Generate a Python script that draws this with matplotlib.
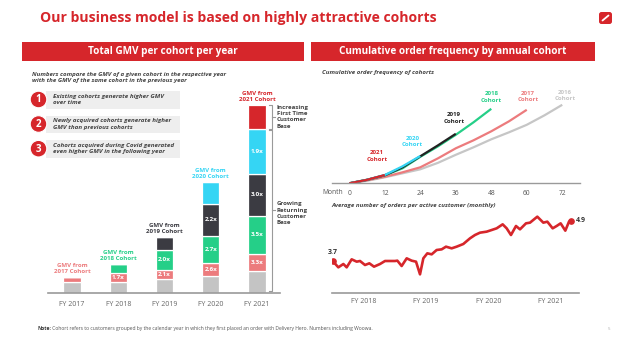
import numpy as np
import matplotlib
matplotlib.use("Agg")
import matplotlib.pyplot as plt
from matplotlib.patches import Rectangle, Circle, FancyBboxPatch

plt.rcParams['font.family'] = ['Open Sans', 'DejaVu Sans']

# ---- data -------------------------------------------------------------
years = ['FY 2017', 'FY 2018', 'FY 2019', 'FY 2020', 'FY 2021']
# GMV per cohort (relative units)
gmv_old = [11, 11, 13.5, 16.5, 22]
gmv_2017 = [4.5, 8.5, 9.5, 13, 17]
gmv_2018 = [0, 9, 19.5, 27, 37.5]
gmv_2019 = [0, 0, 13, 32.5, 42.5]
gmv_2020 = [0, 0, 0, 21.5, 44.5]
gmv_2021 = [0, 0, 0, 0, 24]
lbl_2017 = ['', '1.7x', '2.1x', '2.6x', '3.3x']
lbl_2018 = ['', '', '2.0x', '2.7x', '3.5x']
lbl_2019 = ['', '', '', '2.2x', '3.0x']
lbl_2020 = ['', '', '', '', '1.9x']
lbl_2021 = ['', '', '', '', '']

# cumulative order frequency (relative units), every 6 months
months = [0, 6, 12, 18, 24, 30, 36, 42, 48, 54, 60, 66, 72]
cum_2016 = [0, 2.5, 6, 10, 14, 20.5, 28.5, 36, 44, 51, 58.5, 68, 78.5]
cum_2017 = [0, 3, 6.5, 11, 16, 25, 35, 43, 52, 62, 73.5]
cum_2018 = [0, 3.5, 8, 15, 26.5, 37, 48.5, 61, 74.5]
cum_2019 = [0, 3.5, 8, 16, 27, 38, 49.5]
cum_2020 = [0, 3.5, 8.3, 17, 27.3]
cum_2021 = [0, 3.5, 8.3]

# average orders per active customer, months since Jan 2018
aoc_month = [0.0, 1.09, 2.06, 2.70, 3.66, 4.63, 5.27, 6.23, 7.07, 7.97, 9.13,
             10.09, 12.02, 12.47, 13.30, 14.27, 15.23, 16.07, 16.84, 17.48,
             18.25, 19.09, 20.05, 21.02, 21.85, 22.94, 23.91, 25.19, 26.48,
             27.44, 28.41, 29.69, 30.66, 31.62, 32.78, 33.55, 34.38, 35.35,
             36.12, 37.28, 38.05, 39.46, 40.62, 41.39, 42.42, 43.19, 43.96,
             44.86, 45.57, 45.95]
aoc_value = [3.70, 3.51, 3.61, 3.51, 3.75, 3.68, 3.70, 3.58, 3.63, 3.53, 3.61,
             3.70, 3.70, 3.71, 3.55, 3.78, 3.71, 3.68, 3.30, 3.78,
             3.93, 3.90, 4.03, 4.05, 4.13, 4.08, 4.13, 4.21, 4.38,
             4.48, 4.55, 4.58, 4.63, 4.68, 4.80, 4.68, 4.48, 4.75,
             4.65, 4.83, 4.85, 5.03, 4.85, 4.88, 4.68, 4.75, 4.83,
             4.61, 4.88, 4.90]
fy_ticks = [6, 18, 30, 42]
fy_labels = ['FY 2018', 'FY 2019', 'FY 2020', 'FY 2021']

# ---- colours ----------------------------------------------------------
RED = '#d6262b'
SALMON = '#ec7b7d'
GREEN = '#25cf88'
DARK = '#3b3b42'
CYAN = '#35d5f4'
GREY = '#c4c4c4'
TXT = '#444444'
AXC = '#9a9a9a'

W, H = 619, 344
fig = plt.figure(figsize=(W / 100, H / 100), dpi=100)


def box(l, t, r, b):
    return [l / W, 1 - b / H, (r - l) / W, (b - t) / H]


# background canvas in pixel coordinates
cv = fig.add_axes([0, 0, 1, 1])
cv.set_xlim(0, W)
cv.set_ylim(H, 0)
cv.axis('off')

cv.text(40, 18, 'Our business model is based on highly attractive cohorts',
        color=RED, fontsize=10.1, fontweight='bold', va='center', ha='left')
cv.add_patch(FancyBboxPatch((599, 12), 13, 12, boxstyle='round,pad=0,rounding_size=2.5',
                            fc=RED, ec='none'))
cv.plot([602.5, 608.5], [20.5, 15.5], color='white', lw=1.3, solid_capstyle='round')

for l, r, t in [(22, 304, 'Total GMV per cohort per year'),
                (311, 595, 'Cumulative order frequency by annual cohort')]:
    cv.add_patch(Rectangle((l, 42), r - l, 19, fc=RED, ec='none'))
    cv.text((l + r) / 2, 51.5, t, color='white', fontsize=7.2, fontweight='bold',
            ha='center', va='center')

cv.text(31.5, 77.5, 'Numbers compare the GMV of a given cohort in the respective year\n'
        'with the GMV of the same cohort in the previous year',
        color=TXT, fontsize=4.4, fontweight='bold', style='italic', va='center',
        linespacing=1.35)

bullets = ['Existing cohorts generate higher GMV\nover time',
           'Newly acquired cohorts generate higher\nGMV than previous cohorts',
           'Cohorts acquired during Covid generated\neven higher GMV in the following year']
for i, (yc, t) in enumerate(zip([99.5, 124, 148.7], bullets)):
    cv.add_patch(Rectangle((46, yc - 8.5), 134, 17.5, fc='#eeeeee', ec='none'))
    cv.add_patch(Circle((38.5, yc), 8.3, fc=RED, ec='white', lw=0.8))
    cv.text(38.5, yc + 0.3, str(i + 1), color='white', fontsize=7, fontweight='bold',
            ha='center', va='center')
    cv.text(53, yc, t, color=TXT, fontsize=4.5, fontweight='bold', style='italic',
            va='center', linespacing=1.35)

cv.text(322.5, 72.5, 'Cumulative order frequency of cohorts', color=TXT, fontsize=4.4,
        fontweight='bold', style='italic', va='center')
cv.text(331.5, 205, 'Average number of orders per active customer (monthly)', color=TXT,
        fontsize=4.4, fontweight='bold', style='italic', va='center')
cv.text(322, 192, 'Month', color='#555555', fontsize=4.8, va='center')

note = cv.text(37, 328.5, 'Note:', color='#333333', fontsize=3.6, fontweight='bold',
               va='center')
cv.annotate(' Cohort refers to customers grouped by the calendar year in which they first '
            'placed an order with Delivery Hero. Numbers including Woowa.',
            xy=(1, 0.5), xycoords=note, va='center', ha='left', color='#555555',
            fontsize=3.6)
cv.text(608, 328.5, '5', color='#aaaaaa', fontsize=3.2, va='center')

# ---- stacked bar chart ------------------------------------------------
ax = fig.add_axes(box(48, 80, 280, 292.5))
ax.set_facecolor('none')
x = np.arange(len(years))
layers = [(gmv_old, GREY, ['']*5), (gmv_2017, SALMON, lbl_2017),
          (gmv_2018, GREEN, lbl_2018), (gmv_2019, DARK, lbl_2019),
          (gmv_2020, CYAN, lbl_2020), (gmv_2021, RED, lbl_2021)]
bottom = np.zeros(len(years))
tops = []
for vals, col, lbls in layers:
    vals = np.array(vals, dtype=float)
    ax.bar(x, vals, 0.37, bottom=bottom, color=col, edgecolor='white', linewidth=0.9)
    for i, (v, lb) in enumerate(zip(vals, lbls)):
        if lb:
            ax.text(i, bottom[i] + v / 2, lb, color='white', fontsize=4.6,
                    fontweight='bold', ha='center', va='center')
    tops.append(bottom + vals)
    bottom = bottom + vals

cohort_txt = ['GMV from\n2017 Cohort', 'GMV from\n2018 Cohort', 'GMV from\n2019 Cohort',
              'GMV from\n2020 Cohort', 'GMV from\n2021 Cohort']
cohort_col = [SALMON, GREEN, DARK, CYAN, RED]
for i in range(5):
    ax.text(i, tops[i + 1][i] + 3, cohort_txt[i], color=cohort_col[i], fontsize=4.4,
            fontweight='bold', ha='center', va='bottom', linespacing=1.3)

# brackets on the FY 2021 bar
bx = 4.32
tk = 0.06
y_red0, y_red1 = tops[4][4] + 0.5, tops[5][4]
y_ret0, y_ret1 = 1.5, tops[4][4] - 0.5
for y0, y1 in [(y_red0, y_red1), (y_ret0, y_ret1)]:
    ax.plot([bx - tk, bx, bx, bx - tk], [y0, y0, y1, y1], color=AXC, lw=0.8, clip_on=False)
    ym = (y0 + y1) / 2
    ax.plot([bx, bx + tk], [ym, ym], color=AXC, lw=0.8, clip_on=False)
ax.text(4.43, (y_red0 + y_red1) / 2, 'Increasing\nFirst Time\nCustomer\nBase', color=TXT,
        fontsize=4.4, fontweight='bold', va='center', linespacing=1.3)
ax.text(4.43, (y_ret0 + y_ret1) / 2 - 3, 'Growing\nReturning\nCustomer\nBase', color=TXT,
        fontsize=4.4, fontweight='bold', va='center', linespacing=1.3)

ax.set_xlim(-0.519, 4.497)
ax.set_ylim(0, 212.5)
ax.set_xticks(x)
ax.set_xticklabels(years, color='#666666', fontsize=5)
ax.tick_params(length=0, pad=6)
ax.set_yticks([])
for s in ['top', 'right', 'left']:
    ax.spines[s].set_visible(False)
ax.spines['bottom'].set_color(AXC)
ax.spines['bottom'].set_linewidth(1.2)

# ---- cumulative order frequency --------------------------------------
ax2 = fig.add_axes(box(332, 80, 580, 183.3))
ax2.set_facecolor('none')
series = [(cum_2016, '#c6c6c6', '2016\nCohort', 72.9, 87.6),
          (cum_2017, SALMON, '2017\nCohort', 60.4, 86.6),
          (cum_2018, GREEN, '2018\nCohort', 48.1, 86.3),
          (cum_2019, '#222222', '2019\nCohort', 35.4, 65.3),
          (cum_2020, CYAN, '2020\nCohort', 21.4, 41.6),
          (cum_2021, RED, '2021\nCohort', 9.3, 27.3)]
for vals, col, lab, lx, ly in series:
    ax2.plot(months[:len(vals)], vals, color=col, lw=1.6, solid_capstyle='butt')
    ax2.text(lx, ly, lab, color=col, fontsize=4.4, fontweight='bold', ha='center',
             va='center', linespacing=1.3)
ax2.set_xlim(-5.85, 78)
ax2.set_ylim(0, 103.3)
ax2.set_xticks(range(0, 73, 12))
ax2.tick_params(length=0, pad=5, labelsize=4.8, labelcolor='#555555')
ax2.set_yticks([])
for s in ['top', 'right', 'left']:
    ax2.spines[s].set_visible(False)
ax2.spines['bottom'].set_color(AXC)
ax2.spines['bottom'].set_linewidth(1.0)

# ---- average orders per active customer -------------------------------
ax3 = fig.add_axes(box(331.7, 200, 579, 292.7))
ax3.set_facecolor('none')
ax3.plot(aoc_month, aoc_value, color=RED, lw=1.9, solid_joinstyle='round')
ax3.plot([aoc_month[0], aoc_month[-1]], [aoc_value[0], aoc_value[-1]], 'o', color=RED,
         ms=3.8)
ax3.annotate(f'{aoc_value[0]:.1f}', (aoc_month[0], aoc_value[0]), xytext=(0, 6),
             textcoords='offset points', color='#333333', fontsize=5, fontweight='bold',
             ha='center', va='center')
ax3.annotate(f'{aoc_value[-1]:.1f}', (aoc_month[-1], aoc_value[-1]), xytext=(3.5, 0),
             textcoords='offset points', color='#333333', fontsize=5, fontweight='bold',
             ha='left', va='center')
ax3.set_xlim(-0.19, 47.5)
ax3.set_ylim(2.749, 5.53)
ax3.set_xticks(fy_ticks)
ax3.set_xticklabels(fy_labels)
ax3.tick_params(length=0, pad=4, labelsize=5, labelcolor='#666666')
ax3.set_yticks([])
for s in ['top', 'right', 'left']:
    ax3.spines[s].set_visible(False)
ax3.spines['bottom'].set_color(AXC)
ax3.spines['bottom'].set_linewidth(1.2)

fig.savefig('out.png', dpi=100)
